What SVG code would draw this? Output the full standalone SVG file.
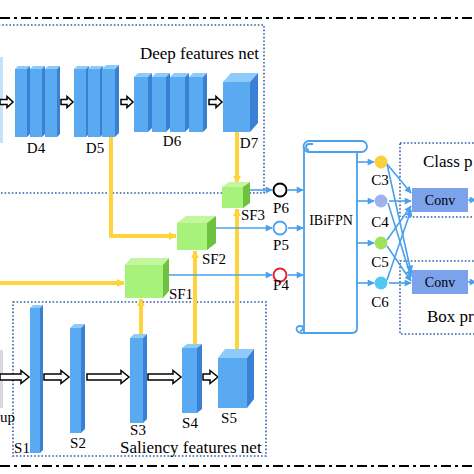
<svg xmlns="http://www.w3.org/2000/svg" width="474" height="474" viewBox="0 0 474 474">
<style>
text{font-family:"Liberation Serif","Times New Roman",serif;fill:#000;}
.lb{font-size:15px;text-anchor:middle;}
.tt{font-size:17px;}
.fr{fill:#5AAAF2;}
.tp{fill:#8ECBFA;}
.sd{fill:#3A80D4;}
.gf{fill:#A6F27A;}
.gt{fill:#C2F79E;}
.gs{fill:#6EC23F;}
.dot{fill:none;stroke:#2F5EA8;stroke-width:1.6;stroke-dasharray:1.6 2;}
.dd{fill:none;stroke:#000;stroke-width:2;stroke-dasharray:10 4 3 4;}
.ha{fill:#fff;stroke:#000;stroke-width:1.5;}
.bl{fill:none;stroke:#4AA0EC;stroke-width:1.6;marker-end:url(#ab);}
.yl{fill:none;stroke:#FFD43B;stroke-width:4;marker-end:url(#ay);}
</style>
<defs>
<marker id="ab" viewBox="0 0 10 10" refX="9" refY="5" markerWidth="9" markerHeight="7" markerUnits="userSpaceOnUse" orient="auto"><path d="M0,0 L10,5 L0,10 z" fill="#4AA0EC"/></marker>
<marker id="ay" viewBox="0 0 10 10" refX="9" refY="5" markerWidth="8" markerHeight="10" markerUnits="userSpaceOnUse" orient="auto"><path d="M0,0 L10,5 L0,10 z" fill="#FFD43B"/></marker>
</defs>
<rect width="474" height="474" fill="#fff"/>

<!-- frames -->
<g id="frames">
<line class="dd" x1="0" y1="18" x2="474" y2="18"/>
<line class="dd" x1="0" y1="466" x2="474" y2="466"/>
<rect class="dot" x="-5" y="25" width="269" height="168"/>
<rect class="dot" x="13" y="302" width="253" height="154"/>
<rect class="dot" x="400" y="143" width="80" height="74"/>
<rect class="dot" x="400" y="261" width="80" height="73"/>
<text class="tt" x="140" y="59">Deep features net</text>
<text class="tt" x="120" y="453">Saliency features net</text>
<text class="tt" x="423" y="167">Class p</text>
<text class="tt" x="427" y="322">Box pr</text>
</g>

<!-- partial blocks at left edge -->
<g id="left-edge">
<rect x="0" y="57" width="3" height="86" fill="#C4E2FA"/>
<rect x="0" y="350" width="3" height="58" fill="#D9D9E6"/>
<text x="0" y="422" font-size="15">up</text>
</g>

<!-- connectors -->
<g id="connectors">
<polygon class="ha" points="0,99.5 7,99.5 7,96.5 13,102 7,107.5 7,104.5 0,104.5"/>
<polygon class="ha" points="61,99.5 67,99.5 67,96.5 73,102 67,107.5 67,104.5 61,104.5"/>
<polygon class="ha" points="121,99.5 127,99.5 127,96.5 133,102 127,107.5 127,104.5 121,104.5"/>
<polygon class="ha" points="209,99.5 216,99.5 216,96.5 222,102 216,107.5 216,104.5 209,104.5"/>
<polygon class="ha" points="0,374 21,374 21,370.5 29,377 21,383.5 21,380 0,380"/>
<polygon class="ha" points="44,374 61,374 61,370.5 69,377 61,383.5 61,380 44,380"/>
<polygon class="ha" points="87,374 121,374 121,370.5 129,377 121,383.5 121,380 87,380"/>
<polygon class="ha" points="148,374 173,374 173,370.5 181,377 173,383.5 173,380 148,380"/>
<polygon class="ha" points="203,374 210,374 210,370.5 218,377 210,383.5 210,380 203,380"/>

<path class="yl" d="M111,137 V236 H176"/>
<path class="yl" d="M237,132 V183"/>
<path class="yl" d="M0,283 H124"/>
<path class="yl" d="M141,336 V299"/>
<path class="yl" d="M195,345 V251"/>
<path class="yl" d="M237,350 V209"/>

<path class="bl" d="M250,190 H272"/>
<path class="bl" d="M216,228 H272"/>
<path class="bl" d="M169,275 H272"/>
<path class="bl" d="M288,190 H303"/>
<path class="bl" d="M288,228 H303"/>
<path class="bl" d="M288,275 H303"/>
<path class="bl" d="M357,162 H374"/>
<path class="bl" d="M357,201 H374"/>
<path class="bl" d="M357,243 H374"/>
<path class="bl" d="M357,283 H374"/>
<path class="bl" d="M387,164 L411,193"/>
<path class="bl" d="M387,164 L411,272"/>
<path class="bl" d="M389,201 H411"/>
<path class="bl" d="M388,203 L411,277"/>
<path class="bl" d="M387,240 L411,206"/>
<path class="bl" d="M387,246 L411,281"/>
<path class="bl" d="M387,280 L411,210"/>
<path class="bl" d="M389,283 H411"/>
<path class="bl" d="M468,200 H476"/>
<path class="bl" d="M468,282 H476"/>
</g>

<!-- Deep features -->
<g id="D4">
<rect class="fr" x="15" y="69" width="12" height="68"/><polygon class="tp" points="15,69 18,66 30,66 27,69"/><polygon class="sd" points="27,69 30,66 30,134 27,137"/>
<rect class="fr" x="30" y="69" width="12" height="68"/><polygon class="tp" points="30,69 33,66 45,66 42,69"/><polygon class="sd" points="42,69 45,66 45,134 42,137"/>
<rect class="fr" x="45" y="69" width="12" height="68"/><polygon class="tp" points="45,69 48,66 60,66 57,69"/><polygon class="sd" points="57,69 60,66 60,134 57,137"/>
<text class="lb" x="36" y="153">D4</text>
</g>
<g id="D5">
<rect class="fr" x="74" y="69" width="12" height="68"/><polygon class="tp" points="74,69 77,66 89,66 86,69"/><polygon class="sd" points="86,69 89,66 89,134 86,137"/>
<rect class="fr" x="88" y="69" width="12" height="68"/><polygon class="tp" points="88,69 91,66 103,66 100,69"/><polygon class="sd" points="100,69 103,66 103,134 100,137"/>
<rect class="fr" x="102" y="69" width="13" height="68"/><polygon class="tp" points="102,69 106,65 119,65 115,69"/><polygon class="sd" points="115,69 119,65 119,133 115,137"/>
<text class="lb" x="95" y="153">D5</text>
</g>
<g id="D6">
<rect class="fr" x="134" y="77" width="14" height="55"/><polygon class="tp" points="134,77 138,73 152,73 148,77"/><polygon class="sd" points="148,77 152,73 152,128 148,132"/>
<rect class="fr" x="152" y="77" width="14" height="55"/><polygon class="tp" points="152,77 156,73 170,73 166,77"/><polygon class="sd" points="166,77 170,73 170,128 166,132"/>
<rect class="fr" x="170" y="77" width="15" height="55"/><polygon class="tp" points="170,77 174,73 189,73 185,77"/><polygon class="sd" points="185,77 189,73 189,128 185,132"/>
<rect class="fr" x="189" y="77" width="14" height="55"/><polygon class="tp" points="189,77 193,73 207,73 203,77"/><polygon class="sd" points="203,77 207,73 207,128 203,132"/>
<text class="lb" x="172" y="146">D6</text>
</g>
<g id="D7">
<rect class="fr" x="223" y="82" width="27" height="50"/><polygon class="tp" points="223,82 231,73 258,73 250,82"/><polygon class="sd" points="250,82 258,73 258,123 250,132"/>
<text class="lb" x="249" y="148">D7</text>
</g>

<!-- Saliency features -->
<g id="S1">
<rect class="fr" x="30" y="308" width="10" height="145"/><polygon class="tp" points="30,308 33,305 43,305 40,308"/><polygon class="sd" points="40,308 43,305 43,450 40,453"/>
<text class="lb" x="22" y="453">S1</text>
</g>
<g id="S2">
<rect class="fr" x="70" y="328" width="11" height="105"/><polygon class="tp" points="70,328 74,324 85,324 81,328"/><polygon class="sd" points="81,328 85,324 85,429 81,433"/>
<text class="lb" x="78" y="448">S2</text>
</g>
<g id="S3">
<rect class="fr" x="130" y="338" width="13" height="85"/><polygon class="tp" points="130,338 134,334 147,334 143,338"/><polygon class="sd" points="143,338 147,334 147,419 143,423"/>
<text class="lb" x="138" y="435">S3</text>
</g>
<g id="S4">
<rect class="fr" x="182" y="348" width="15" height="65"/><polygon class="tp" points="182,348 187,344 202,344 197,348"/><polygon class="sd" points="197,348 202,344 202,409 197,413"/>
<text class="lb" x="190" y="428">S4</text>
</g>
<g id="S5">
<rect class="fr" x="218" y="358" width="29" height="50"/><polygon class="tp" points="218,358 225,349 254,349 247,358"/><polygon class="sd" points="247,358 254,349 254,399 247,408"/>
<text class="lb" x="229" y="423">S5</text>
</g>

<!-- fusion cubes -->
<g id="SF3">
<rect class="gf" x="222" y="187" width="21" height="21"/><polygon class="gt" points="222,187 229,182 250,182 243,187"/><polygon class="gs" points="243,187 250,182 250,203 243,208"/>
<text class="lb" x="253" y="220">SF3</text>
</g>
<g id="SF2">
<rect class="gf" x="177" y="223" width="30" height="27"/><polygon class="gt" points="177,223 186,216 216,216 207,223"/><polygon class="gs" points="207,223 216,216 216,243 207,250"/>
<text class="lb" x="214" y="264">SF2</text>
</g>
<g id="SF1">
<rect class="gf" x="125" y="265" width="38" height="33"/><polygon class="gt" points="125,265 131,258 169,258 163,265"/><polygon class="gs" points="163,265 169,258 169,291 163,298"/>
<text class="lb" x="181" y="299">SF1</text>
</g>

<!-- P nodes -->
<g id="P6"><circle cx="280" cy="190" r="6.5" fill="#fff" stroke="#000" stroke-width="2"/><text class="lb" x="281" y="213">P6</text></g>
<g id="P5"><circle cx="280" cy="228" r="6.5" fill="#fff" stroke="#4AA0EC" stroke-width="1.8"/><text class="lb" x="281" y="250">P5</text></g>
<g id="P4"><circle cx="280" cy="275" r="6.5" fill="#fff" stroke="#E4232C" stroke-width="2"/><text class="lb" x="281" y="290">P4</text></g>

<!-- IBiFPN scroll -->
<g id="IBiFPN" fill="none" stroke="#4AA0EC" stroke-width="1.8">
<path d="M304,147 V333 H352 Q357,333 357,328 V152"/>
<path d="M309,141 H361.5 A5.5,5.5 0 0 1 361.5,152 H309 A5.5,5.5 0 0 1 309,141 Z"/>
<path d="M309,150 A3,3 0 0 1 309,144 H313"/>
<path d="M304,333 C296,334 294,326 300,326 C304,326 304,330 300,331"/>
<text x="331" y="225" font-size="14" text-anchor="middle" stroke="none" fill="#000">IBiFPN</text>
</g>

<!-- C nodes -->
<g id="C3"><circle cx="381" cy="162" r="6.5" fill="#F9D13E"/><text class="lb" x="380" y="185">C3</text></g>
<g id="C4"><circle cx="381" cy="201" r="6.5" fill="#9DB2EE"/><text class="lb" x="380" y="227">C4</text></g>
<g id="C5"><circle cx="381" cy="243" r="6.5" fill="#9FE25C"/><text class="lb" x="380" y="267">C5</text></g>
<g id="C6"><circle cx="381" cy="283" r="6.5" fill="#52C8F2"/><text class="lb" x="380" y="307">C6</text></g>

<!-- Conv -->
<g id="conv-class"><rect x="412" y="188" width="56" height="24" fill="#7CA2EC"/><text x="440" y="205" font-size="14" text-anchor="middle">Conv</text></g>
<g id="conv-box"><rect x="412" y="270" width="56" height="24" fill="#7CA2EC"/><text x="440" y="287" font-size="14" text-anchor="middle">Conv</text></g>
</svg>
